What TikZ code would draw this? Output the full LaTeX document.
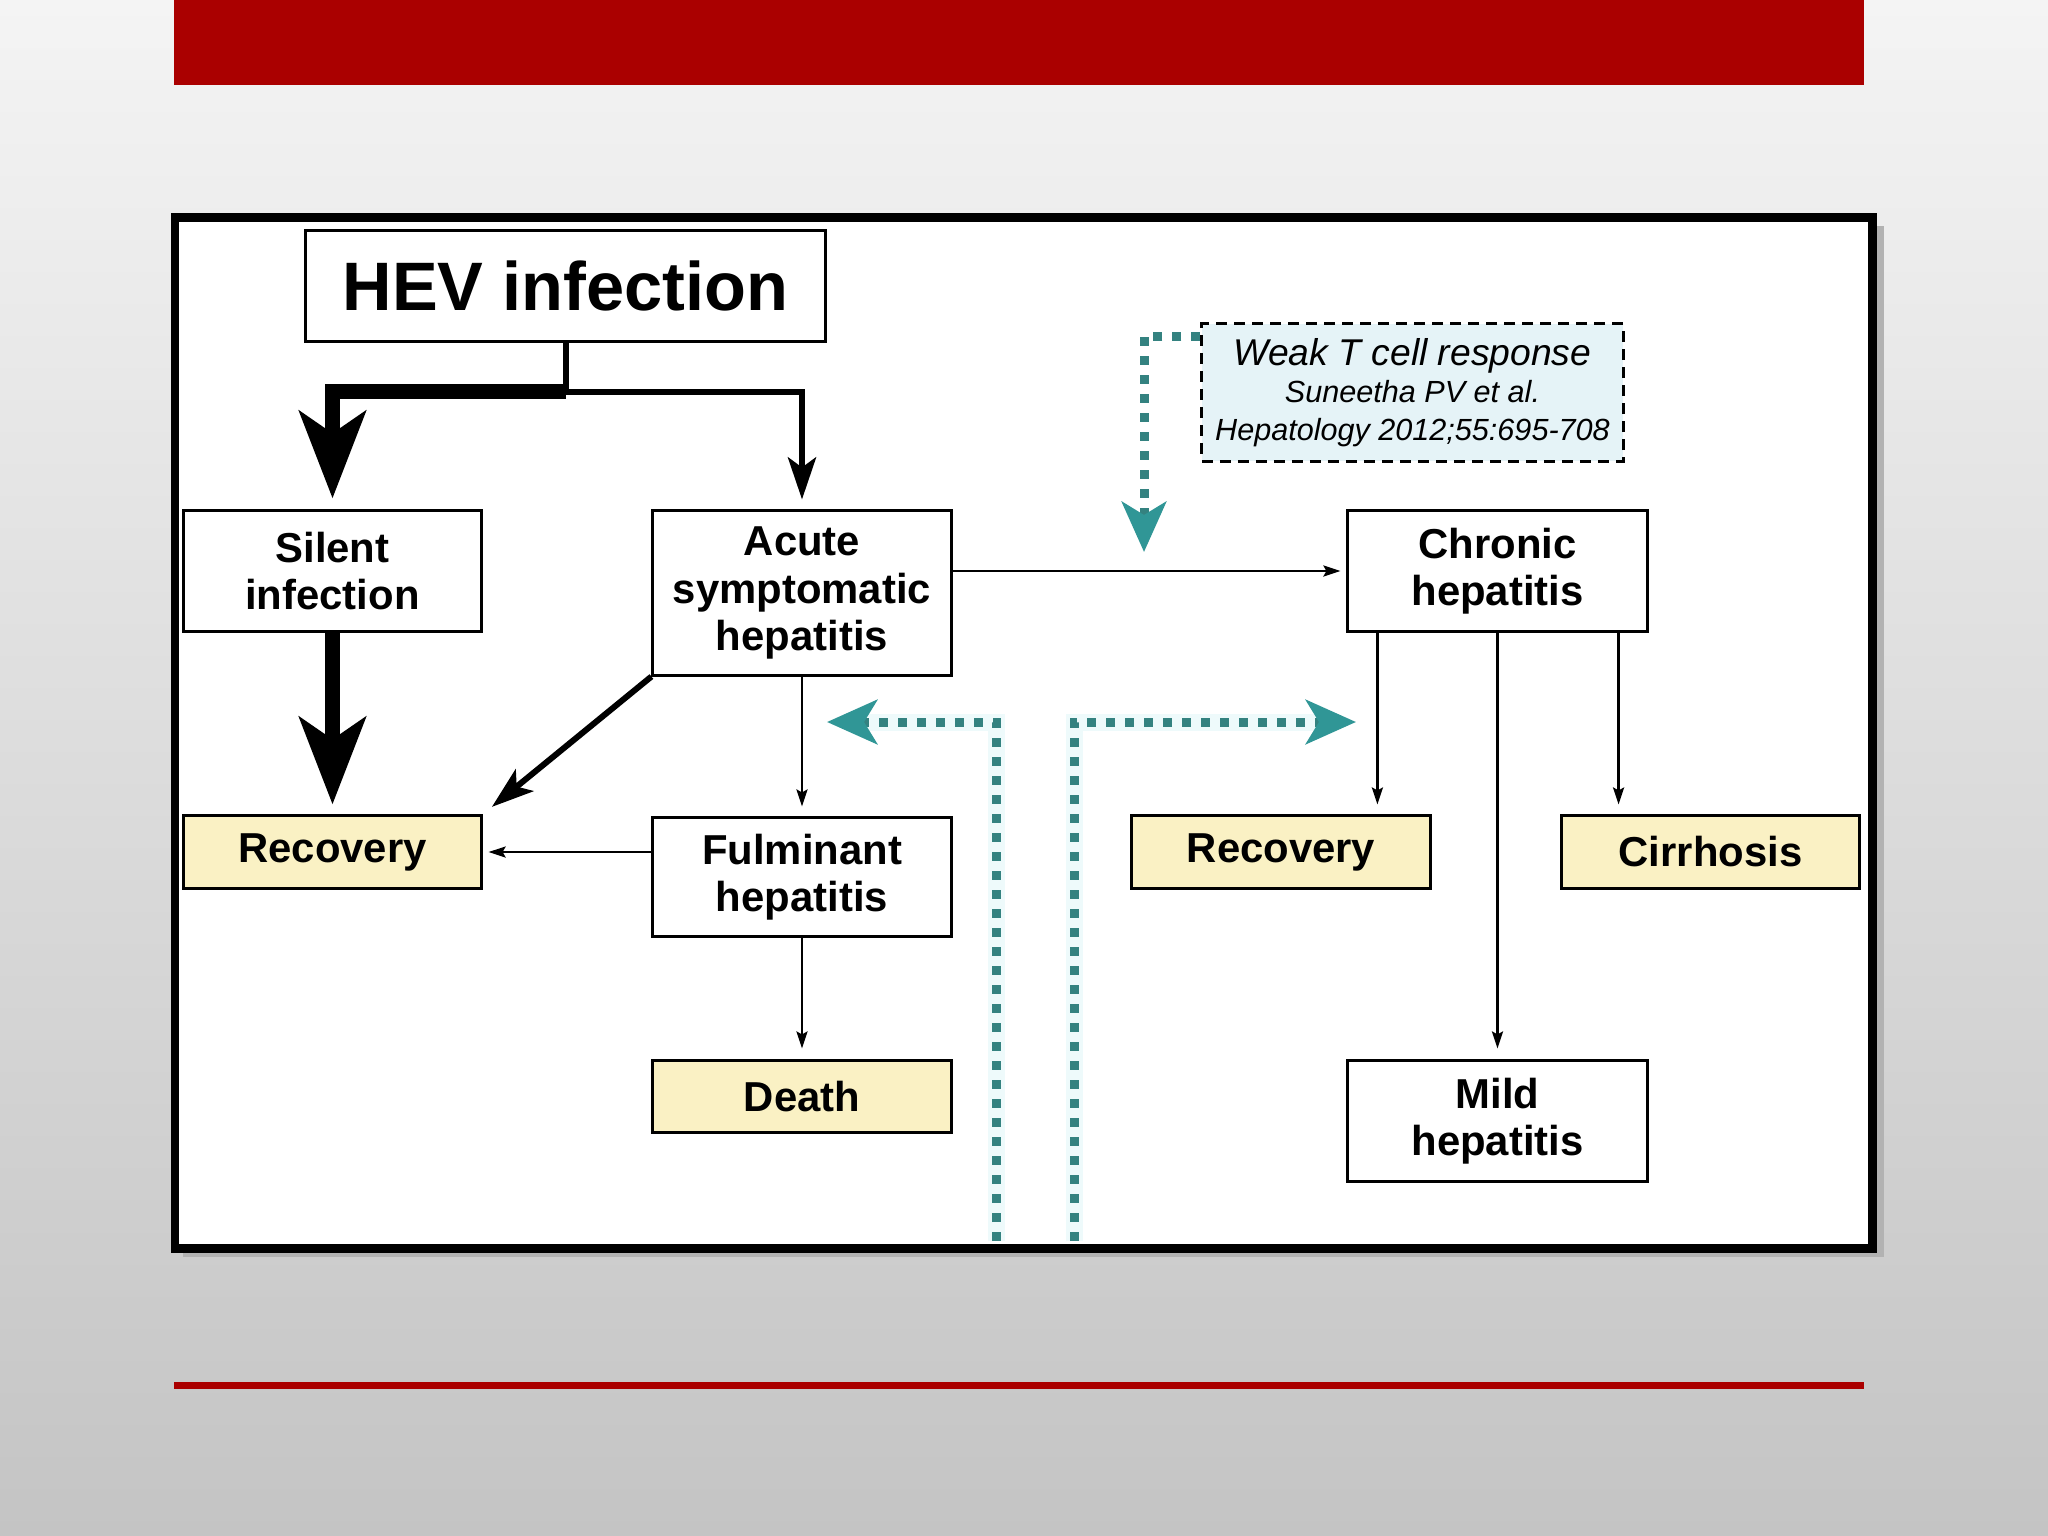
\documentclass[tikz,border=0pt]{standalone}
\usepackage{fontspec}
\setmainfont{Liberation Sans}
\usetikzlibrary{arrows.meta,calc}
\definecolor{barred}{RGB}{170,0,0}
\definecolor{boxyellow}{RGB}{250,241,196}
\definecolor{weakfill}{RGB}{229,243,247}
\definecolor{tealdot}{RGB}{52,130,128}
\definecolor{tealhead}{RGB}{48,150,150}
\definecolor{halocol}{RGB}{238,250,251}
\definecolor{bgtop}{RGB}{244,244,244}
\definecolor{bgbot}{RGB}{196,196,196}
\tikzset{
  flowbox/.style={draw, line width=0.03cm, fill=white, inner sep=0pt, align=center,
    font=\fontsize{11.9}{13.4}\selectfont\bfseries},
  ybox/.style={flowbox, fill=boxyellow},
  thinarrow/.style={line width=0.025cm, -{Stealth[length=0.17cm,width=0.11cm,inset=0.03cm]}},
  stemline/.style={line width=0.06cm},
  bigarrow/.style={line width=0.15cm, -{Stealth[length=0.87cm,width=0.66cm,inset=0.22cm]}},
  medarrow/.style={line width=0.06cm, -{Stealth[length=0.42cm,width=0.28cm,inset=0.1cm]}},
  tealline/.style={draw=tealdot, line width=0.09cm, dash pattern=on 0.09cm off 0.10cm,
    -{Stealth[length=0.5cm,width=0.44cm,inset=0.13cm,color=tealhead]}},
  haloline/.style={draw=halocol, line width=0.17cm}
}
\begin{document}
\begin{tikzpicture}[x=0.01cm,y=-0.01cm]
\useasboundingbox (0,0) rectangle (2048,1536);
\shade[top color=bgtop,bottom color=bgbot] (0,0) rectangle (2048,1536);
% red bars
\fill[barred] (174,0) rectangle (1864,85);
\draw[barred, line width=0.07cm] (174,1385.5) -- (1864,1385.5);
% frame
\fill[black!30] (183,226) rectangle (1884,1257);
\fill[white] (175,217.5) rectangle (1872.5,1248.5);

% halos of dotted lines
\coordinate (lb) at (996,1241);
\coordinate (ltip) at (827,722);
\coordinate (rb) at (1074,1241);
\coordinate (rtip) at (1356,722);
\coordinate (wtip) at (1144,552);
\draw[haloline] (lb) |- ($(ltip)+(40,0)$);
\draw[haloline] (rb) |- ($(rtip)+(-40,0)$);

% nodes
\node[flowbox, minimum width=5.19cm, minimum height=1.10cm,
      font=\fontsize{19.5}{22}\selectfont\bfseries] (hev) at (565.5,286) {HEV infection};
\node[flowbox, minimum width=2.97cm, minimum height=1.20cm] (silent) at (332.5,571) {Silent\\infection};
\node[flowbox, minimum width=2.98cm, minimum height=1.64cm] (acute) at (802,593) {Acute\\symptomatic\\hepatitis};
\node[flowbox, minimum width=2.99cm, minimum height=1.20cm] (chronic) at (1497.5,571) {Chronic\\hepatitis};
\node[ybox, minimum width=2.97cm, minimum height=0.72cm] (recl) at (332.5,852) {Recovery};
\node[flowbox, minimum width=2.98cm, minimum height=1.18cm] (fulm) at (802,877) {Fulminant\\hepatitis};
\node[ybox, minimum width=2.98cm, minimum height=0.71cm] (death) at (802,1096.5) {Death};
\node[ybox, minimum width=2.98cm, minimum height=0.72cm] (recr) at (1281,852) {Recovery};
\node[ybox, minimum width=2.97cm, minimum height=0.72cm] (cirr) at (1710.5,852) {Cirrhosis};
\node[flowbox, minimum width=2.99cm, minimum height=1.20cm] (mild) at (1497.5,1121) {Mild\\hepatitis};
\node[flowbox, fill=weakfill, dash pattern=on 0.11cm off 0.07cm, minimum width=4.21cm, minimum height=1.37cm,
      font=\fontsize{8.7}{10.6}\selectfont\itshape] (weak) at (1412.5,392.5)
      {{\fontsize{10.6}{10.6}\selectfont Weak T cell response}\\Suneetha PV et al.\\Hepatology 2012;55:695-708};

% black connectors
\coordinate (split) at ($(hev.south)+(0,49)$);
\draw[stemline] (hev.south) -- (split);
\draw[bigarrow, shorten >=0.11cm] (split) -| (silent.north);
\draw[medarrow, shorten >=0.1cm] (split) -| (acute.north);
\draw[bigarrow, shorten >=0.1cm] (silent.south) -- (recl.north);
\draw[medarrow, shorten >=0.12cm] (acute.south west) -- (recl.north east);
\draw[thinarrow, shorten >=0.1cm] (acute.south) -- (fulm.north);
\draw[thinarrow, shorten >=0.06cm] (fulm.west |- recl.east) -- (recl.east);
\draw[thinarrow, shorten >=0.11cm] (fulm.south) -- (death.north);
\draw[thinarrow, shorten >=0.06cm] (acute.east |- chronic.west) -- (chronic.west);
\coordinate (c1) at ($(chronic.south west)+(31,0)$);
\coordinate (c3) at ($(chronic.south east)+(-30,0)$);
\draw[thinarrow, shorten >=0.1cm] (c1) -- (c1 |- recr.north);
\draw[thinarrow, shorten >=0.11cm] (chronic.south) -- (mild.north);
\draw[thinarrow, shorten >=0.1cm] (c3) -- (c3 |- cirr.north);

% teal dotted connectors
\coordinate (wstart) at ($(weak.north west)+(0,14)$);
\draw[tealline] (wstart) -| (wtip);
\draw[tealline] (lb) |- (ltip);
\draw[tealline] (rb) |- (rtip);

% frame border
\draw[line width=0.085cm] (175,217.5) rectangle (1872.5,1248.5);
\end{tikzpicture}
\end{document}
